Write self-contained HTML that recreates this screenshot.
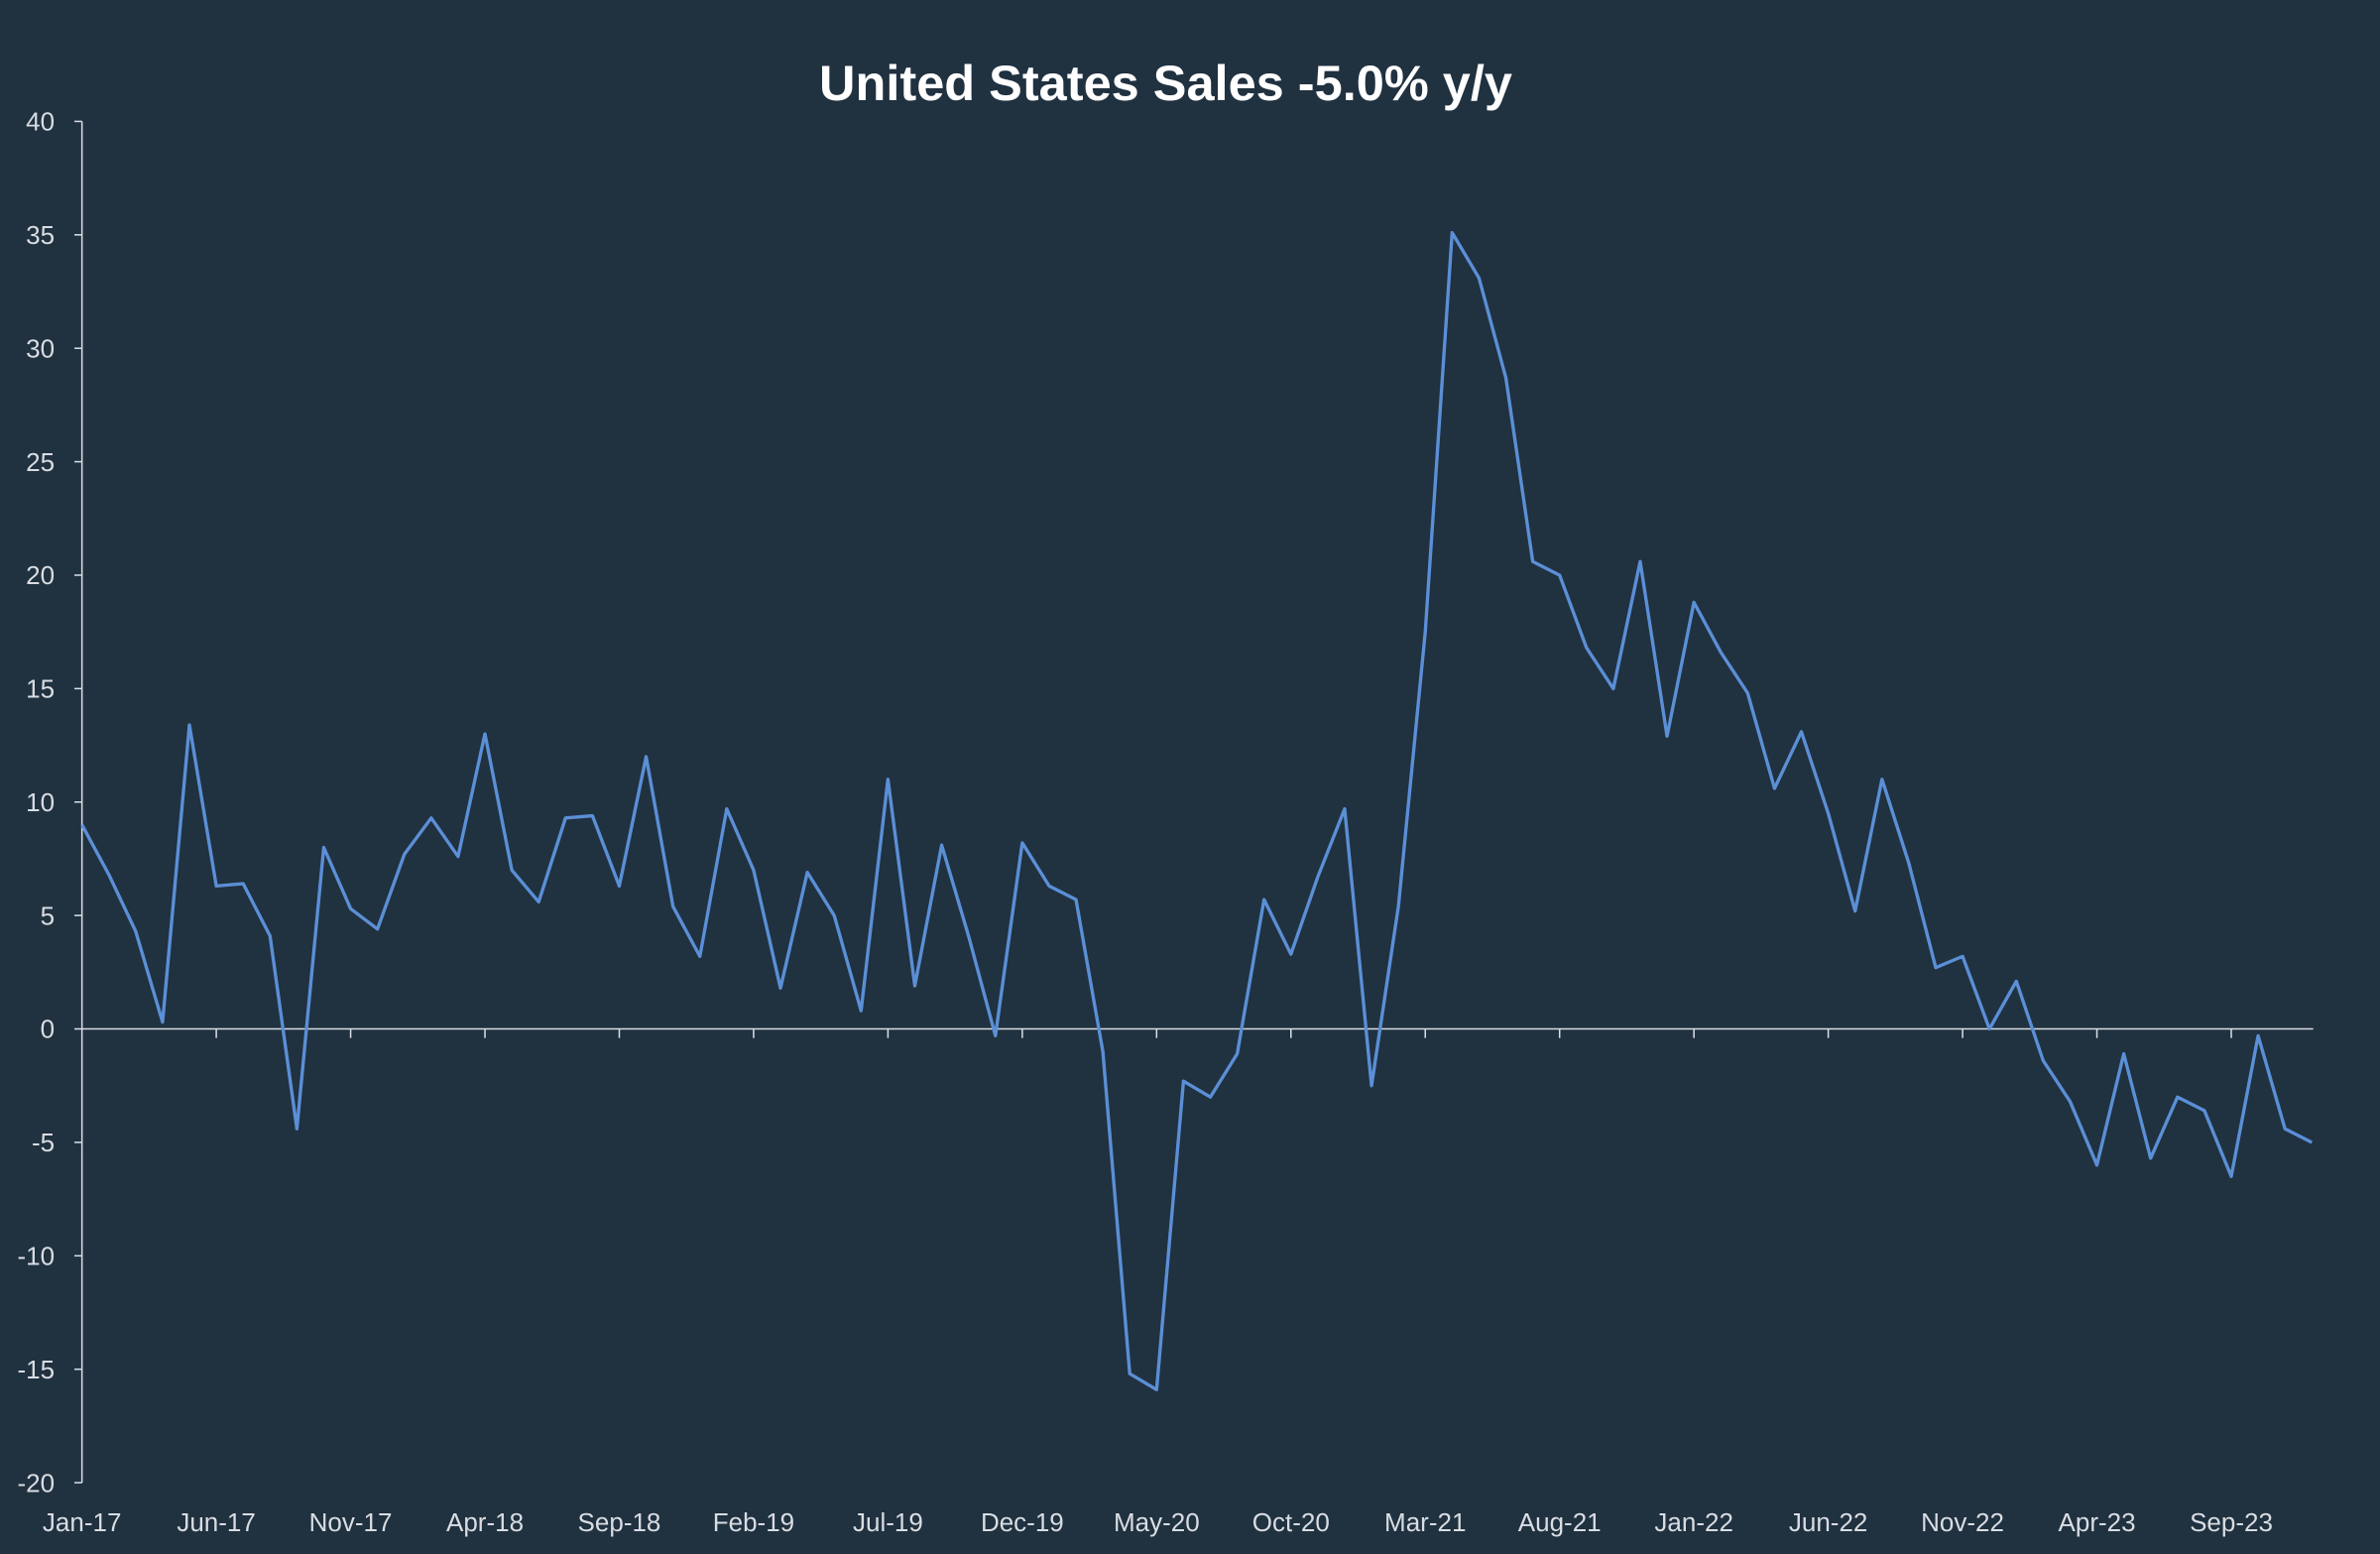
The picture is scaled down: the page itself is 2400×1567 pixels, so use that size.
<!DOCTYPE html>
<html><head><meta charset="utf-8"><style>
html,body{margin:0;padding:0;background:#203140;}
svg{display:block}
text{font-family:"Liberation Sans",sans-serif;fill:#d9dde2;}
</style></head><body>
<svg id="c" width="2400" height="1567" viewBox="0 0 1568 1024" preserveAspectRatio="none">
<rect width="1568" height="1024" fill="#203140"/>
<text x="768" y="66" text-anchor="middle" style="font-size:33px;font-weight:bold;fill:#ffffff">United States Sales -5.0% y/y</text>
<g id="ax"></g>
</svg>
<script>
const d=[9,6.8,4.3,0.3,13.4,6.3,6.4,4.1,-4.4,8,5.3,4.4,
7.7,9.3,7.6,13,7,5.6,9.3,9.4,6.3,12,5.4,3.2,
9.7,7,1.8,6.9,5,0.8,11,1.9,8.1,4.1,-0.3,8.2,
6.3,5.7,-1,-15.2,-15.9,-2.3,-3,-1.1,5.7,3.3,6.7,9.7,
-2.5,5.4,17.5,35.1,33.1,28.7,20.6,20,16.8,15,20.6,12.9,
18.8,16.6,14.8,10.6,13.1,9.5,5.2,11,7.3,2.7,3.2,0,
2.1,-1.4,-3.2,-6,-1.1,-5.7,-3,-3.6,-6.5,-0.3,-4.4,-5];
const x0=54,dx=17.7,Y=v=>678-v*14.95;
let s='';
s+=`<line x1="${x0}" y1="80" x2="${x0}" y2="977" stroke="#d9dde2" stroke-width="1"/>`;
for(let v=-20;v<=40;v+=5){const y=Y(v);
s+=`<line x1="${x0-5}" y1="${y}" x2="${x0}" y2="${y}" stroke="#d9dde2"/>`;
s+=`<text x="36" y="${y+6}" text-anchor="end" style="font-size:17px">${v}</text>`;}
s+=`<line x1="${x0}" y1="678" x2="1524" y2="678" stroke="#d9dde2" stroke-width="1"/>`;
const labs=["Jan-17","Jun-17","Nov-17","Apr-18","Sep-18","Feb-19","Jul-19","Dec-19","May-20","Oct-20","Mar-21","Aug-21","Jan-22","Jun-22","Nov-22","Apr-23","Sep-23"];
labs.forEach((l,i)=>{const x=x0+i*5*dx;
if(i>0)s+=`<line x1="${x}" y1="678" x2="${x}" y2="684" stroke="#d9dde2"/>`;
s+=`<text x="${x}" y="1009" text-anchor="middle" style="font-size:17px">${l}</text>`;});
s+=`<polyline fill="none" stroke="#5b8fd6" stroke-width="2.2" stroke-linejoin="round" points="${d.map((v,i)=>(x0+i*dx).toFixed(1)+','+Y(v).toFixed(1)).join(' ')}"/>`;
document.getElementById('ax').innerHTML=s;
</script>
</body></html>
